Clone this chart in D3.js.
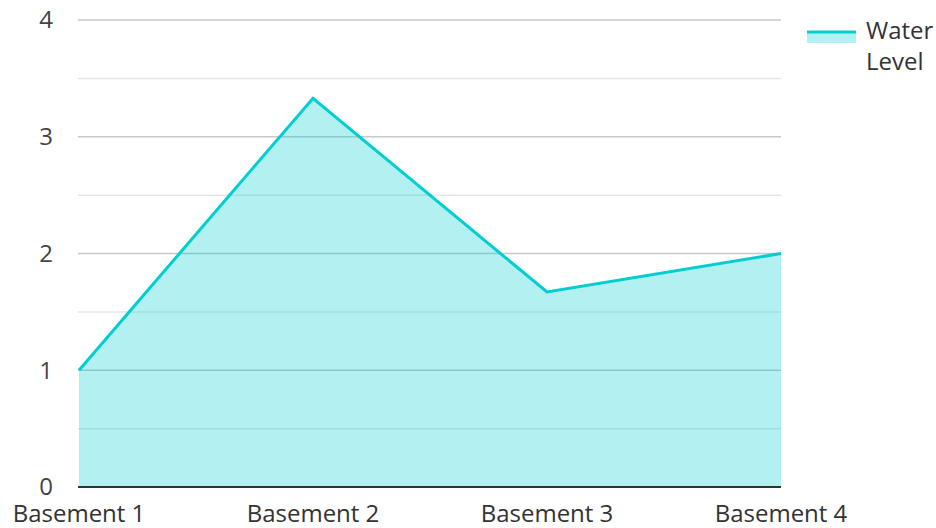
<!DOCTYPE html>
<html><head><meta charset="utf-8">
<script src="https://cdn.jsdelivr.net/npm/d3@7"></script>
<style>body{margin:0;background:#fff}svg{display:block}text{font-family:"Open Sans",sans-serif}</style>
</head><body><svg id="c" width="936" height="528"></svg>
<script>
const categories = ["Basement 1","Basement 2","Basement 3","Basement 4"];
const waterLevel = [1, 3.33, 1.67, 2];
const yTicks = [0,1,2,3,4];
const yMinor = [0.5,1.5,2.5,3.5];
const seriesName = ["Water","Level"];

const svg = d3.select("#c");
const x = d3.scalePoint().domain(categories).range([79,781]);
const y = d3.scaleLinear().domain([0,4]).range([487,20]);
const col = "#00CED1";

svg.append("g").selectAll("line").data(yMinor).join("line")
  .attr("x1",78).attr("x2",781).attr("y1",d=>y(d)).attr("y2",d=>y(d))
  .attr("stroke","#e6e6e6").attr("stroke-width",1.5);
svg.append("g").selectAll("line").data(yTicks.filter(d=>d>0)).join("line")
  .attr("x1",78).attr("x2",781).attr("y1",d=>y(d)).attr("y2",d=>y(d))
  .attr("stroke","#c8c8c8").attr("stroke-width",1.5);

const data = categories.map((c,i)=>({c,v:waterLevel[i]}));
svg.append("path").datum(data)
  .attr("d",d3.area().x(d=>x(d.c)).y0(y(0)).y1(d=>y(d.v)))
  .attr("fill",col).attr("fill-opacity",0.3);
svg.append("path").datum(data)
  .attr("d",d3.line().x(d=>x(d.c)).y(d=>y(d.v)))
  .attr("fill","none").attr("stroke",col).attr("stroke-width",3).attr("stroke-linejoin","miter");

svg.append("line").attr("x1",78).attr("x2",781).attr("y1",y(0)).attr("y2",y(0))
  .attr("stroke","#333").attr("stroke-width",2);

svg.append("g").selectAll("text").data(yTicks).join("text")
  .attr("x",53).attr("y",d=>y(d)).attr("dy","0.35em").attr("text-anchor","end")
  .attr("font-size",24).attr("fill","#444").text(d=>d);

svg.append("g").selectAll("text").data(categories).join("text")
  .attr("x",d=>x(d)).attr("y",522).attr("text-anchor","middle")
  .attr("font-size",24).attr("fill","#333").text(d=>d);

const lg = svg.append("g");
lg.append("rect").attr("x",807).attr("y",32).attr("width",49).attr("height",11).attr("fill",col).attr("fill-opacity",0.3);
lg.append("line").attr("x1",807).attr("x2",856).attr("y1",32).attr("y2",32).attr("stroke",col).attr("stroke-width",3);
lg.selectAll("text.l").data(seriesName).join("text")
  .attr("x",866).attr("y",(d,i)=>39+i*31).attr("font-size",24).attr("fill","#333").text(d=>d);
</script></body></html>
